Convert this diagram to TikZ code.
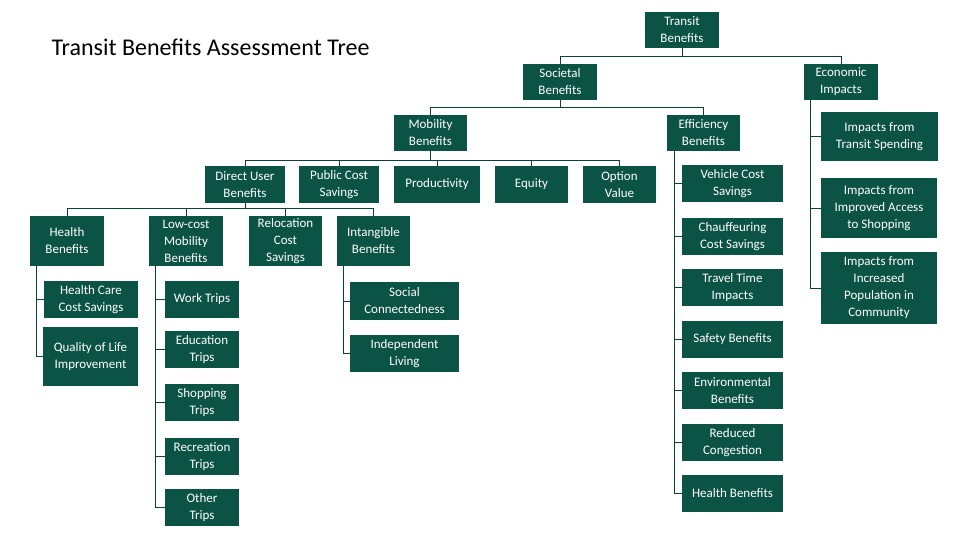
\documentclass[tikz,border=0pt]{standalone}
\usepackage{fontspec}
\setmainfont{Carlito}
\definecolor{tg}{RGB}{11,83,69}
\begin{document}
\begin{tikzpicture}[x=1pt,y=-1pt,
  box/.style={fill=tg,text=white,align=center,inner sep=0pt,font=\fontsize{13}{17}\selectfont},
  ln/.style={draw=tg!80!black,line width=0.9pt}]
\useasboundingbox (0,0) rectangle (960,540);
\newcommand\bx[6]{\node[box,minimum width={#4-#2},minimum height={#5-#3}] (#1) at ({(#2+#4)/2},{(#3+#5)/2}) {#6};}
\node[anchor=west,font=\fontsize{24}{28}\selectfont,text=black] (title) at (48,47) {Transit Benefits Assessment Tree};
\bx{tb}{645}{12}{719}{48}{Transit\\Benefits}
\bx{sb}{523}{64}{597}{100}{Societal\\Benefits}
\bx{eb}{804}{64}{878}{100}{Economic\\Impacts}
\bx{mb}{394}{115}{467}{151}{Mobility\\Benefits}
\bx{ef}{667}{115}{740}{151}{Efficiency\\Benefits}
\bx{du}{205}{166}{285}{203}{Direct User\\Benefits}
\bx{pc}{299}{166}{379}{203}{Public Cost\\Savings}
\bx{pr}{394}{166}{480}{203}{Productivity}
\bx{eq}{495}{166}{568}{203}{Equity}
\bx{ov}{583}{166}{656}{203}{Option\\Value}
\bx{hb}{30}{216}{104}{266}{Health\\Benefits}
\bx{lc}{149}{216}{223}{266}{Low-cost\\Mobility\\Benefits}
\bx{rc}{249}{216}{322}{266}{Relocation\\Cost\\Savings}
\bx{ib}{337}{216}{410}{266}{Intangible\\Benefits}
\bx{hc}{44}{281}{138}{318}{Health Care\\Cost Savings}
\bx{ql}{43}{327}{138}{386}{Quality of Life\\Improvement}
\bx{wt}{165}{281}{239}{318}{Work Trips}
\bx{et}{165}{331}{239}{368}{Education\\Trips}
\bx{st}{165}{384}{239}{421}{Shopping\\Trips}
\bx{rt}{165}{438}{239}{475}{Recreation\\Trips}
\bx{ot}{165}{489}{239}{526}{Other\\Trips}
\bx{sc}{350}{282}{459}{320}{Social\\Connectedness}
\bx{il}{350}{335}{459}{372}{Independent\\Living}
\bx{vc}{682}{165}{783}{202}{Vehicle Cost\\Savings}
\bx{cc}{682}{218}{783}{255}{Chauffeuring\\Cost Savings}
\bx{tt}{682}{269}{783}{306}{Travel Time\\Impacts}
\bx{sf}{682}{321}{783}{358}{Safety Benefits}
\bx{en}{682}{372}{783}{409}{Environmental\\Benefits}
\bx{rd}{682}{424}{783}{461}{Reduced\\Congestion}
\bx{hh}{682}{475}{783}{512}{Health Benefits}
\bx{ts}{821}{112}{938}{161}{Impacts from\\Transit Spending}
\bx{ia}{821}{178}{937}{238}{Impacts from\\Improved Access\\to Shopping}
\bx{ip}{821}{252}{937}{324}{Impacts from\\Increased\\Population in\\Community}
% top-down buses
\foreach \c in {sb,eb} \draw[ln] (tb.south) -- ++(0,8) -| (\c.north);
\foreach \c in {mb,ef} \draw[ln] (sb.south) -- ++(0,7) -| (\c.north);
\foreach \c in {du,pc,pr,eq,ov} \draw[ln] (mb.south) -- ++(0,9) -| (\c.north);
\foreach \c in {hb,lc,rc,ib} \draw[ln] (du.south) -- ++(0,5) -| (\c.north);
% side buses
\foreach \c in {hc,ql} \draw[ln] ([xshift=7pt]hb.south west) |- (\c.west);
\foreach \c in {wt,et,st,rt,ot} \draw[ln] ([xshift=7pt]lc.south west) |- (\c.west);
\foreach \c in {sc,il} \draw[ln] ([xshift=7pt]ib.south west) |- (\c.west);
\foreach \c in {vc,cc,tt,sf,en,rd,hh} \draw[ln] ([xshift=8pt]ef.south west) |- (\c.west);
\foreach \c in {ts,ia,ip} \draw[ln] ([xshift=7pt]eb.south west) |- (\c.west);
\end{tikzpicture}
\end{document}
